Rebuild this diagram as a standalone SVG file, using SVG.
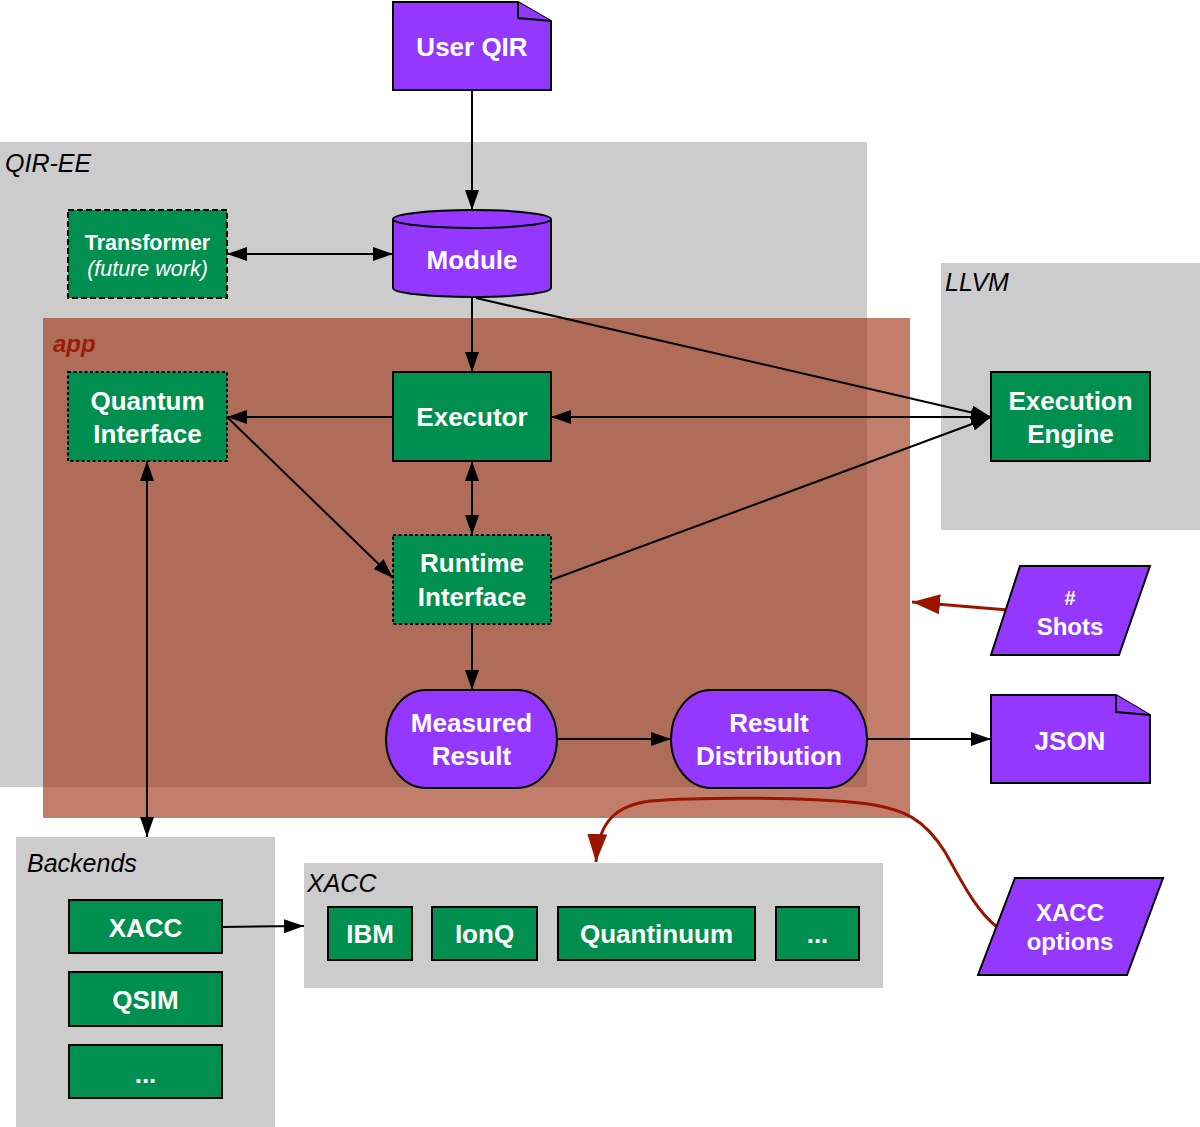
<svg xmlns="http://www.w3.org/2000/svg" width="1200" height="1127" viewBox="0 0 1200 1127">
<style>
.panel{fill:#cccccc}
.g{fill:#008f4f;stroke:#000;stroke-width:2}
.p{fill:#9437ff;stroke:#000;stroke-width:2}
.dash{stroke-dasharray:6 3}
.dot{stroke-dasharray:3 2.5}
.t{font-family:"Liberation Sans",Arial,sans-serif;font-weight:bold;fill:#fff;text-anchor:middle}
.ti{font-family:"Liberation Sans",Arial,sans-serif;font-weight:normal;font-style:italic;fill:#fff;text-anchor:middle}
.lbl{font-family:"Liberation Sans",Arial,sans-serif;font-style:italic;fill:#000}
.c{fill:none;stroke:#000;stroke-width:2}
.r{fill:none;stroke:#9b1400;stroke-width:3}
</style>
<defs>
<marker id="ah" markerUnits="userSpaceOnUse" markerWidth="20" markerHeight="14" refX="20" refY="7" orient="auto-start-reverse" viewBox="0 0 20 14">
<path d="M0,0 L20,7 L0,14 Z" fill="#000"/>
</marker>
<marker id="rah" markerUnits="userSpaceOnUse" markerWidth="28" markerHeight="20" refX="28" refY="10" orient="auto" viewBox="0 0 28 20">
<path d="M0,0 L28,10 L0,20 Z" fill="#9b1400"/>
</marker>
</defs>

<g id="panels">
<rect class="panel" x="0" y="142" width="867" height="645"/>
<text class="lbl" x="5" y="172" font-size="25">QIR-EE</text>
<rect class="panel" x="941" y="263" width="259" height="267"/>
<text class="lbl" x="945" y="291" font-size="25">LLVM</text>
<rect class="panel" x="16" y="837" width="259" height="290"/>
<text class="lbl" x="27" y="872" font-size="25">Backends</text>
<rect class="panel" x="304" y="863" width="579" height="125"/>
<text class="lbl" x="307" y="892" font-size="25">XACC</text>
</g>

<g id="app">
<rect x="43" y="318" width="867" height="500" fill="#9e391c" fill-opacity="0.65"/>
<text x="53" y="352" font-family="Liberation Sans,Arial,sans-serif" font-weight="bold" font-style="italic" font-size="24" fill="#9b1c0a">app</text>
</g>

<g id="connectors">
<line class="c" x1="472" y1="90" x2="472" y2="210" marker-end="url(#ah)"/>
<line class="c" x1="227" y1="254" x2="393" y2="254" marker-start="url(#ah)" marker-end="url(#ah)"/>
<line class="c" x1="472" y1="297" x2="472" y2="372" marker-end="url(#ah)"/>
<line class="c" x1="476" y1="298" x2="991" y2="417" marker-end="url(#ah)"/>
<line class="c" x1="393" y1="417" x2="227" y2="417" marker-end="url(#ah)"/>
<line class="c" x1="551" y1="417" x2="991" y2="417" marker-start="url(#ah)" marker-end="url(#ah)"/>
<line class="c" x1="472" y1="461" x2="472" y2="535" marker-start="url(#ah)" marker-end="url(#ah)"/>
<line class="c" x1="227" y1="417" x2="393" y2="578" marker-end="url(#ah)"/>
<line class="c" x1="551" y1="580" x2="991" y2="417" marker-end="url(#ah)"/>
<line class="c" x1="472" y1="624" x2="472" y2="690" marker-end="url(#ah)"/>
<line class="c" x1="557" y1="739" x2="671" y2="739" marker-end="url(#ah)"/>
<line class="c" x1="867" y1="739" x2="991" y2="739" marker-end="url(#ah)"/>
<line class="c" x1="147" y1="461" x2="147" y2="837" marker-start="url(#ah)" marker-end="url(#ah)"/>
<line class="c" x1="222" y1="927" x2="304" y2="926" marker-end="url(#ah)"/>
<line class="r" x1="1008" y1="610" x2="912" y2="602" marker-end="url(#rah)"/>
<path class="r" d="M997,927 C975,910 960,878 945,852 C925,820 905,808 860,803 C800,797 700,797 650,801 C620,805 598,818 596,862" marker-end="url(#rah)"/>
</g>

<g id="user-qir">
<path class="p" d="M393,2 H518 L551,21 V90 H393 Z"/>
<path class="p" d="M518,2 V18 L551,21"/>
<text class="t" x="472" y="56" font-size="26">User QIR</text>
</g>

<g id="module">
<path class="p" d="M393,219 A79,9 0 0 1 551,219 V288 A79,9 0 0 1 393,288 Z"/>
<path class="p" d="M393,219 A79,9 0 0 0 551,219"/>
<text class="t" x="472" y="269" font-size="26">Module</text>
</g>

<g id="transformer">
<rect class="g dash" x="68" y="210" width="159" height="88"/>
<text class="t" x="147.5" y="250" font-size="21.5">Transformer</text>
<text class="ti" x="147.5" y="276" font-size="21.5">(future work)</text>
</g>

<g id="quantum-interface">
<rect class="g dot" x="68" y="372" width="159" height="89"/>
<text class="t" x="147.5" y="410" font-size="26">Quantum</text>
<text class="t" x="147.5" y="443" font-size="26">Interface</text>
</g>

<g id="executor">
<rect class="g" x="393" y="372" width="158" height="89"/>
<text class="t" x="472" y="426" font-size="26">Executor</text>
</g>

<g id="runtime-interface">
<rect class="g dot" x="393" y="535" width="158" height="89"/>
<text class="t" x="472" y="572" font-size="26">Runtime</text>
<text class="t" x="472" y="606" font-size="26">Interface</text>
</g>

<g id="measured-result">
<rect class="p" x="386" y="690" width="171" height="98" rx="40" ry="49"/>
<text class="t" x="471.5" y="732" font-size="26">Measured</text>
<text class="t" x="471.5" y="765" font-size="26">Result</text>
</g>

<g id="result-distribution">
<rect class="p" x="671" y="690" width="196" height="98" rx="40" ry="49"/>
<text class="t" x="769" y="732" font-size="26">Result</text>
<text class="t" x="769" y="765" font-size="26">Distribution</text>
</g>

<g id="execution-engine">
<rect class="g" x="991" y="372" width="159" height="89"/>
<text class="t" x="1070.5" y="410" font-size="26">Execution</text>
<text class="t" x="1070.5" y="443" font-size="26">Engine</text>
</g>

<g id="shots">
<path class="p" d="M1020,566 H1150 L1119,655 H991 Z"/>
<text class="t" x="1070" y="605" font-size="20">#</text>
<text class="t" x="1070" y="635" font-size="24">Shots</text>
</g>

<g id="json">
<path class="p" d="M991,695 H1116 L1150,715 V783 H991 Z"/>
<path class="p" d="M1116,695 V712 L1150,715"/>
<text class="t" x="1070" y="750" font-size="26">JSON</text>
</g>

<g id="xacc-options">
<path class="p" d="M1015,878 H1163 L1127,975 H978 Z"/>
<text class="t" x="1070" y="921" font-size="24">XACC</text>
<text class="t" x="1070" y="950" font-size="24">options</text>
</g>

<g id="backend-xacc">
<rect class="g" x="69" y="900" width="153" height="53"/>
<text class="t" x="145.5" y="937" font-size="26">XACC</text>
</g>
<g id="backend-qsim">
<rect class="g" x="69" y="972" width="153" height="54"/>
<text class="t" x="145.5" y="1009" font-size="26">QSIM</text>
</g>
<g id="backend-more">
<rect class="g" x="69" y="1045" width="153" height="53"/>
<text class="t" x="145.5" y="1083" font-size="26">...</text>
</g>

<g id="ibm">
<rect class="g" x="328" y="907" width="84" height="53"/>
<text class="t" x="370" y="943" font-size="26">IBM</text>
</g>
<g id="ionq">
<rect class="g" x="432" y="907" width="105" height="53"/>
<text class="t" x="484.5" y="943" font-size="26">IonQ</text>
</g>
<g id="quantinuum">
<rect class="g" x="558" y="907" width="197" height="53"/>
<text class="t" x="656.5" y="943" font-size="26">Quantinuum</text>
</g>
<g id="xacc-more">
<rect class="g" x="776" y="907" width="83" height="53"/>
<text class="t" x="817.5" y="943" font-size="26">...</text>
</g>
</svg>
